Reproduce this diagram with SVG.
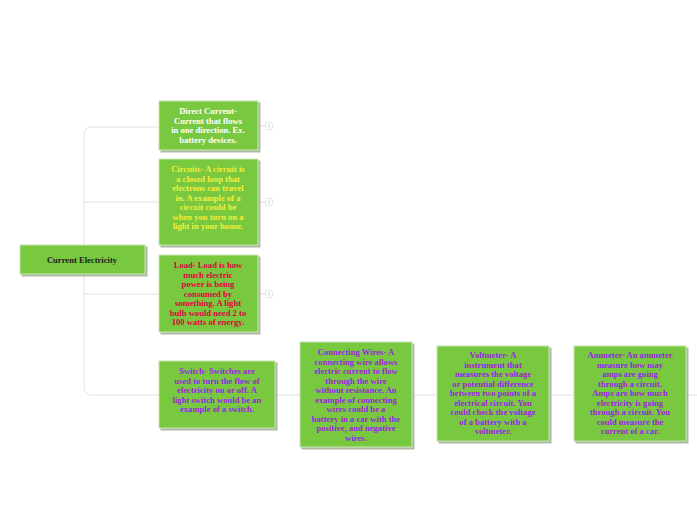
<svg xmlns="http://www.w3.org/2000/svg" width="697" height="520" viewBox="0 0 697 520">
<style>
.n{fill:#78c841;stroke:#c8e6b0;stroke-width:1;filter:url(#sh)}
.t{font-family:"Liberation Serif",serif;font-weight:bold;font-size:8.6px;text-anchor:middle}
.c{fill:none;stroke:#e2e2e2;stroke-width:1}
.k{fill:#fff;stroke:#e2e2e2}
.kt{font-family:"Liberation Sans",sans-serif;font-size:5px;fill:#ccc;text-anchor:middle}
</style>
<defs><filter id="sh"><feDropShadow dx="2" dy="2" stdDeviation="0.6" flood-color="#9aa88e" flood-opacity="0.8"/></filter></defs>
<rect width="697" height="520" fill="#fff"/>
<g id="connectors">
<path class="c" d="M84,245 V135 Q84,127 92,127 H159 M84,202 H159 M84,274 V387 Q84,395 92,395 H697 M84,294 H159"/>
<path class="c" d="M258,126 H265 M258,202 H265 M258,294 H265"/>
<circle class="k" cx="269" cy="126" r="4"/><text class="kt" x="269" y="128">4</text>
<circle class="k" cx="269" cy="202" r="4"/><text class="kt" x="269" y="204">4</text>
<circle class="k" cx="269" cy="294" r="4"/><text class="kt" x="269" y="296">4</text>
</g>
<g id="root"><rect class="n" x="20" y="245" width="125" height="29"/><text class="t" x="82" y="263" fill="#222">Current Electricity</text></g>
<g id="n1"><rect class="n" x="159" y="101" width="99" height="49"/><text class="t" fill="#fff"><tspan x="208" y="114">Direct Current-</tspan><tspan x="208" y="123.5">Current that flows</tspan><tspan x="208" y="133">in one direction. Ex.</tspan><tspan x="208" y="142.5">battery devices.</tspan></text></g>
<g id="n2"><rect class="n" x="159" y="159" width="99" height="86"/><text class="t" fill="#f2ef3a"><tspan x="208" y="172">Circuits- A circuit is</tspan><tspan x="208" y="181.5">a closed loop that</tspan><tspan x="208" y="191">electrons can travel</tspan><tspan x="208" y="200.5">in. A example of a</tspan><tspan x="208" y="210">circuit could be</tspan><tspan x="208" y="219.5">when you turn on a</tspan><tspan x="208" y="229">light in your house.</tspan></text></g>
<g id="n3"><rect class="n" x="159" y="255" width="99" height="77"/><text class="t" fill="#e0003c"><tspan x="208" y="268">Load- Load is how</tspan><tspan x="208" y="277.5">much electric</tspan><tspan x="208" y="287">power is being</tspan><tspan x="208" y="296.5">consumed by</tspan><tspan x="208" y="306">something. A light</tspan><tspan x="208" y="315.5">bulb would need 2 to</tspan><tspan x="208" y="325">100 watts of energy.</tspan></text></g>
<g id="n4"><rect class="n" x="159" y="361" width="116" height="67"/><text class="t" fill="#9a1fe0"><tspan x="217" y="374">Switch- Switches are</tspan><tspan x="217" y="383.5">used to turn the flow of</tspan><tspan x="217" y="393">electricity on or off. A</tspan><tspan x="217" y="402.5">light switch would be an</tspan><tspan x="217" y="412">example of a switch.</tspan></text></g>
<g id="n5"><rect class="n" x="300" y="342" width="112" height="105"/><text class="t" fill="#9a1fe0"><tspan x="356" y="355">Connecting Wires- A</tspan><tspan x="356" y="364.5">connecting wire allows</tspan><tspan x="356" y="374">electric current to flow</tspan><tspan x="356" y="383.5">through the wire</tspan><tspan x="356" y="393">without resistance.  An</tspan><tspan x="356" y="402.5">example of connecting</tspan><tspan x="356" y="412">wires could be a</tspan><tspan x="356" y="421.5">battery in a car with the</tspan><tspan x="356" y="431">positive, and negative</tspan><tspan x="356" y="440.5">wires.</tspan></text></g>
<g id="n6"><rect class="n" x="437" y="346" width="112" height="95"/><text class="t" fill="#9a1fe0"><tspan x="493" y="358">Voltmeter- A</tspan><tspan x="493" y="367.5">instrument that</tspan><tspan x="493" y="377">measures the voltage</tspan><tspan x="493" y="386.5">or potential difference</tspan><tspan x="493" y="396">between two points of a</tspan><tspan x="493" y="405.5">electrical circuit. You</tspan><tspan x="493" y="415">could check the voltage</tspan><tspan x="493" y="424.5">of a battery with a</tspan><tspan x="493" y="434">voltmeter.</tspan></text></g>
<g id="n7"><rect class="n" x="574" y="346" width="112" height="95"/><text class="t" fill="#9a1fe0"><tspan x="630" y="358">Ammeter- An ammeter</tspan><tspan x="630" y="367.5">measure how may</tspan><tspan x="630" y="377">amps are going</tspan><tspan x="630" y="386.5">through a circuit.</tspan><tspan x="630" y="396">Amps are how much</tspan><tspan x="630" y="405.5">electricity is going</tspan><tspan x="630" y="415">through a circuit. You</tspan><tspan x="630" y="424.5">could measure the</tspan><tspan x="630" y="434">current of a car.</tspan></text></g>
</svg>
